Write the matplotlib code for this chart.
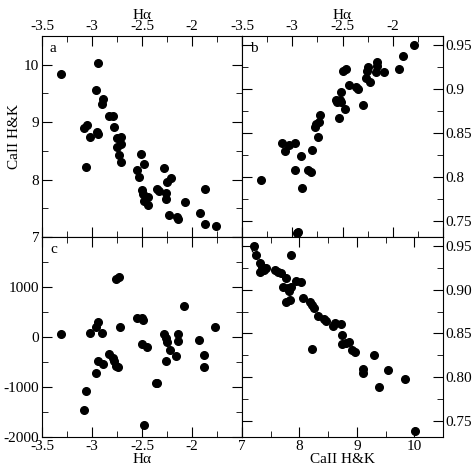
import numpy as np
import matplotlib
matplotlib.use('Agg')
from matplotlib import pyplot as plt
from matplotlib.ticker import MultipleLocator, FuncFormatter

plt.rcParams['font.family'] = ['Liberation Serif', 'DejaVu Serif']
plt.rcParams['font.size'] = 11

# panel a: Halpha vs CaII H&K
a_x = [-3.31, -2.94, -2.96, -2.89, -2.90, -2.83, -2.79, -3.08, -3.05, -2.95, -2.94, -3.02,
       -2.78, -2.75, -2.71, -2.71, -2.75, -2.73, -2.71, -3.06, -2.51, -2.48, -2.55, -2.53,
       -2.28, -2.21, -2.25, -2.50, -2.49, -2.35, -2.33, -2.26, -2.26, -2.48, -2.44, -2.44,
       -2.07, -2.23, -2.15, -2.14, -1.87, -1.92, -1.87, -1.76]
a_y = [9.84, 10.03, 9.56, 9.40, 9.31, 9.11, 9.11, 8.89, 8.95, 8.83, 8.79, 8.75,
       8.91, 8.72, 8.74, 8.62, 8.57, 8.42, 8.30, 8.22, 8.45, 8.27, 8.17, 8.04,
       8.20, 8.02, 7.95, 7.82, 7.75, 7.84, 7.80, 7.76, 7.66, 7.63, 7.70, 7.56,
       7.61, 7.38, 7.35, 7.32, 7.84, 7.42, 7.22, 7.19]

# panel b: Halpha vs ratio
b_x = [-1.79, -1.90, -1.94, -2.16, -2.16, -2.17, -2.09, -2.25, -2.26, -2.27, -2.23,
       -2.50, -2.47, -2.44, -2.37, -2.35, -2.51, -2.56, -2.52, -2.55, -2.51, -2.30,
       -2.48, -2.53, -2.72, -2.76, -2.73, -2.77, -2.74, -3.10, -3.07, -3.03, -2.97,
       -2.91, -2.80, -2.97, -2.84, -2.81, -2.90, -3.31, -2.95]
b_y = [0.950, 0.937, 0.923, 0.930, 0.926, 0.919, 0.919, 0.925, 0.920, 0.912, 0.908,
       0.920, 0.922, 0.904, 0.902, 0.900, 0.897, 0.887, 0.887, 0.885, 0.885, 0.882,
       0.877, 0.867, 0.870, 0.860, 0.862, 0.857, 0.846, 0.839, 0.830, 0.836, 0.839,
       0.824, 0.831, 0.808, 0.808, 0.806, 0.788, 0.797, 0.737]

# panel c: Halpha vs residual
c_x = [-3.31, -3.02, -2.96, -2.94, -2.90, -2.94, -2.96, -2.89, -3.06, -3.08, -2.83,
       -2.79, -2.78, -2.76, -2.74, -2.76, -2.73, -2.72, -2.55, -2.50, -2.49, -2.50,
       -2.45, -2.48, -2.36, -2.35, -2.28, -2.26, -2.25, -2.22, -2.26, -2.16, -2.14,
       -2.14, -2.08, -1.93, -1.88, -1.88, -1.77]
c_y = [53, 73, 205, 298, 73, -470, -715, -543, -1086, -1464, -338,
       -424, -483, -570, -603, 1152, 1199, 192, 384, 384, 338, -139,
       -192, -1762, -914, -921, 60, -26, -93, -258, -483, -371, 53,
       -73, 623, -60, -358, -603, 192]

# panel d: CaII H&K vs ratio
d_x = [7.21, 7.25, 7.86, 7.97, 7.32, 7.35, 7.32, 7.39, 7.42, 7.57, 7.63, 7.68, 7.77,
       7.71, 7.80, 7.85, 7.81, 7.94, 8.02, 7.77, 7.83, 8.06, 8.18, 8.22, 8.26, 8.32,
       8.42, 8.46, 8.58, 8.62, 8.73, 8.75, 8.74, 8.81, 8.87, 8.91, 8.96, 8.22, 9.10,
       9.10, 9.30, 9.39, 9.54, 9.83, 10.02]
d_y = [0.950, 0.939, 0.939, 0.966, 0.930, 0.926, 0.920, 0.922, 0.925, 0.922, 0.920, 0.919, 0.913,
       0.903, 0.902, 0.903, 0.898, 0.910, 0.909, 0.886, 0.888, 0.890, 0.886, 0.883, 0.879, 0.870,
       0.866, 0.864, 0.859, 0.862, 0.861, 0.848, 0.838, 0.839, 0.840, 0.831, 0.829, 0.832, 0.809,
       0.805, 0.825, 0.789, 0.808, 0.798, 0.739]

fig = plt.figure(figsize=(4.74, 4.74), dpi=100)
W, H = 474, 474
def box(l, t, r, b):
    return [l / W, 1 - b / H, (r - l) / W, (b - t) / H]

axa = fig.add_axes(box(42, 36, 242, 237))
axb = fig.add_axes(box(242, 36, 443, 237))
axc = fig.add_axes(box(42, 237, 242, 437))
axd = fig.add_axes(box(242, 237, 443, 437))

for ax, x, y in [(axa, a_x, a_y), (axb, b_x, b_y), (axc, c_x, c_y), (axd, d_x, d_y)]:
    ax.plot(x, y, 'o', color='black', ms=5.5, clip_on=False)
    ax.tick_params(which='both', direction='in', top=True, bottom=True, left=True, right=True,
                   labeltop=False, labelbottom=False, labelleft=False, labelright=False, pad=2)
    ax.tick_params(which='major', length=7)
    ax.tick_params(which='minor', length=4)

def hide(vals):
    def f(v, p):
        for h in vals:
            if abs(v - h) < 1e-6:
                return ''
        return '%g' % v
    return FuncFormatter(f)

for ax in (axa, axb, axc):
    ax.set_xlim(-3.5, -1.5)
    ax.xaxis.set_major_locator(MultipleLocator(0.5))
    ax.xaxis.set_minor_locator(MultipleLocator(0.25))
    ax.xaxis.set_major_formatter(hide([-1.5]))

axa.set_ylim(7, 10.5)
axa.yaxis.set_major_locator(MultipleLocator(1))
axa.yaxis.set_minor_locator(MultipleLocator(0.5))
axa.tick_params(labeltop=True, labelleft=True)
axa.xaxis.set_label_position('top')
axa.set_xlabel('Hα', labelpad=1)
axa.set_ylabel('CaII H&K', labelpad=2)

axb.set_ylim(0.732, 0.96)
axb.yaxis.set_major_locator(MultipleLocator(0.05))
axb.yaxis.set_minor_locator(MultipleLocator(0.025))
axb.yaxis.set_major_formatter(hide([0.75 - 1]))
axb.tick_params(labeltop=True, labelright=True)
axb.xaxis.set_label_position('top')
axb.set_xlabel('Hα', labelpad=1)

axc.set_ylim(-2000, 2000)
axc.yaxis.set_major_locator(MultipleLocator(1000))
axc.yaxis.set_minor_locator(MultipleLocator(500))
axc.yaxis.set_major_formatter(hide([2000]))
axc.tick_params(labelbottom=True, labelleft=True)
axc.set_xlabel('Hα', labelpad=0)

axd.set_xlim(7, 10.5)
axd.xaxis.set_major_locator(MultipleLocator(1))
axd.xaxis.set_minor_locator(MultipleLocator(0.5))
axd.set_ylim(0.732, 0.96)
axd.yaxis.set_major_locator(MultipleLocator(0.05))
axd.yaxis.set_minor_locator(MultipleLocator(0.025))
axd.tick_params(labelbottom=True, labelright=True)
axd.set_xlabel('CaII H&K', labelpad=0)

for ax, t in [(axa, 'a'), (axb, 'b'), (axc, 'c'), (axd, 'd')]:
    ax.text(0.04, 0.97, t, transform=ax.transAxes, va='top', ha='left', fontsize=11)

fig.savefig('out.png', dpi=100)
